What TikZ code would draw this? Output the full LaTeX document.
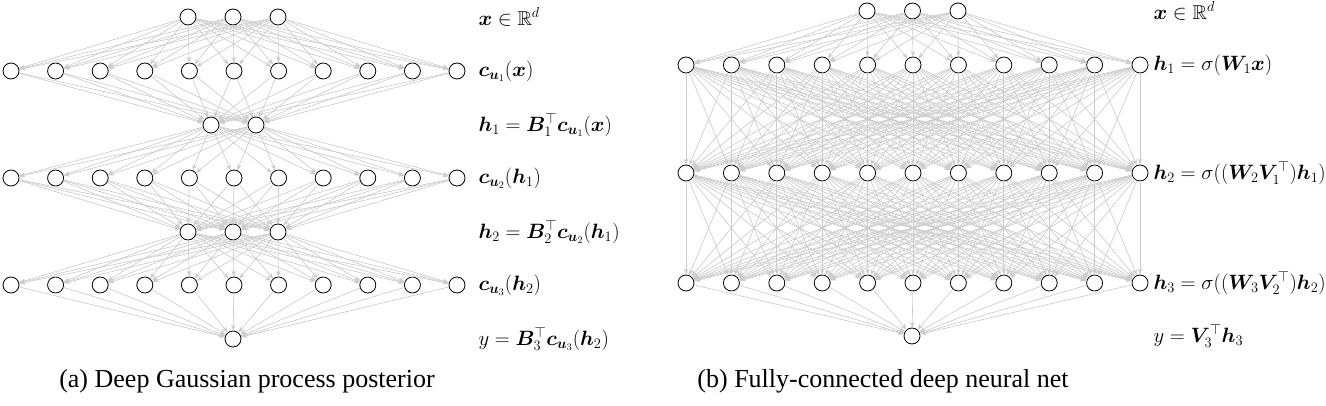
\documentclass[tikz,border=0pt]{standalone}
\usepackage{amsmath,amssymb,bm}
\usepackage{fontspec}
\setmainfont{Liberation Serif}
\usetikzlibrary{arrows.meta}
\begin{document}
\begin{tikzpicture}[x=1pt,y=-1pt,
  nd/.style={circle,draw=black,thick,fill=white,minimum size=16pt,inner sep=0pt},
  ed/.style={draw=black!20,line width=0.65pt,-{Stealth[length=6pt,width=4.5pt]}},
  lb/.style={anchor=west,font=\fontsize{20}{22}\selectfont},
  captxt/.style={font=\fontsize{26}{30}\selectfont}]
\useasboundingbox (0,0) rectangle (1326,406);
% ---------- left panel ----------
\foreach \i in {0,1,2} \node[nd] (a0-\i) at ({188+45*\i},17) {};
\foreach \i in {0,...,10} \node[nd] (a1-\i) at ({11+44.6*\i},71) {};
\foreach \i in {0,1} \node[nd] (a2-\i) at ({211+45*\i},125) {};
\foreach \i in {0,...,10} \node[nd] (a3-\i) at ({11+44.6*\i},178) {};
\foreach \i in {0,1,2} \node[nd] (a4-\i) at ({188+45*\i},232) {};
\foreach \i in {0,...,10} \node[nd] (a5-\i) at ({11+44.6*\i},285) {};
\node[nd] (a6-0) at (233,339) {};
\foreach \i in {0,1,2}{\foreach \j in {0,...,10}{\path[ed] (a0-\i) -- (a1-\j);}}
\foreach \i in {0,...,10}{\foreach \j in {0,1}{\path[ed] (a1-\i) -- (a2-\j);}}
\foreach \i in {0,1}{\foreach \j in {0,...,10}{\path[ed] (a2-\i) -- (a3-\j);}}
\foreach \i in {0,...,10}{\foreach \j in {0,1,2}{\path[ed] (a3-\i) -- (a4-\j);}}
\foreach \i in {0,1,2}{\foreach \j in {0,...,10}{\path[ed] (a4-\i) -- (a5-\j);}}
\foreach \i in {0,...,10}{\path[ed] (a5-\i) -- (a6-0);}
\node[lb] (la0) at (475,17) {$\bm{x}\in\mathbb{R}^d$};
\node[lb] (la1) at (475,71) {$\bm{c}_{\bm{u}_1}(\bm{x})$};
\node[lb] (la2) at (475,125) {$\bm{h}_1=\bm{B}_1^{\top}\bm{c}_{\bm{u}_1}(\bm{x})$};
\node[lb] (la3) at (475,178) {$\bm{c}_{\bm{u}_2}(\bm{h}_1)$};
\node[lb] (la4) at (475,232) {$\bm{h}_2=\bm{B}_2^{\top}\bm{c}_{\bm{u}_2}(\bm{h}_1)$};
\node[lb] (la5) at (475,285) {$\bm{c}_{\bm{u}_3}(\bm{h}_2)$};
\node[lb] (la6) at (475,339) {$y=\bm{B}_3^{\top}\bm{c}_{\bm{u}_3}(\bm{h}_2)$};
\node[captxt] (capa) at (247,381) {(a) Deep Gaussian process posterior};
% ---------- right panel ----------
\foreach \i in {0,1,2} \node[nd] (b0-\i) at ({867+45.5*\i},11) {};
\foreach \i in {0,...,10} \node[nd] (b1-\i) at ({686+45.4*\i},65) {};
\foreach \i in {0,...,10} \node[nd] (b2-\i) at ({686+45.4*\i},173) {};
\foreach \i in {0,...,10} \node[nd] (b3-\i) at ({686+45.4*\i},283) {};
\node[nd] (b4-0) at (912,336) {};
\foreach \i in {0,1,2}{\foreach \j in {0,...,10}{\path[ed] (b0-\i) -- (b1-\j);}}
\foreach \i in {0,...,10}{\foreach \j in {0,...,10}{\path[ed] (b1-\i) -- (b2-\j);}}
\foreach \i in {0,...,10}{\foreach \j in {0,...,10}{\path[ed] (b2-\i) -- (b3-\j);}}
\foreach \i in {0,...,10}{\path[ed] (b3-\i) -- (b4-0);}
\node[lb] (lb0) at (1150,11) {$\bm{x}\in\mathbb{R}^d$};
\node[lb] (lb1) at (1150,65) {$\bm{h}_1=\sigma(\bm{W}_1\bm{x})$};
\node[lb] (lb2) at (1150,173) {$\bm{h}_2=\sigma((\bm{W}_2\bm{V}_1^{\top})\bm{h}_1)$};
\node[lb] (lb3) at (1150,283) {$\bm{h}_3=\sigma((\bm{W}_3\bm{V}_2^{\top})\bm{h}_2)$};
\node[lb] (lb4) at (1150,336) {$y=\bm{V}_3^{\top}\bm{h}_3$};
\node[captxt] (capb) at (883,381) {(b) Fully-connected deep neural net};
\end{tikzpicture}
\end{document}
